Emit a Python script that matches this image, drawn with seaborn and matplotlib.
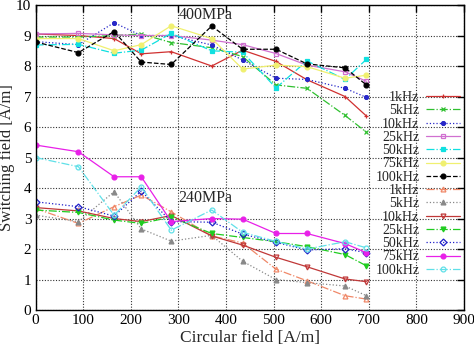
import numpy as np
import pandas as pd
import matplotlib
matplotlib.use("Agg")
import matplotlib.pyplot as plt
import seaborn as sns

x = [0, 90, 165, 222, 285, 370, 435, 505, 570, 650, 695]

labels = ["1kHz", "5kHz", "10kHz", "25kHz", "50kHz", "75kHz", "100kHz"]

# 400 MPa
hi_1k   = [9.05, 9.0, 8.9, 8.4, 8.47, 8.0, 8.52, 8.15, 7.55, 7.0, 6.36]
hi_5k   = [8.95, 8.95, 9.0, 9.05, 8.77, 8.6, 8.31, 7.38, 7.27, 6.38, 5.83]
hi_10k  = [8.8, 8.7, 9.42, 9.0, 9.0, 8.69, 8.2, 7.6, 7.56, 7.27, 6.97]
hi_25k  = [9.05, 9.07, 9.02, 9.0, 9.0, 8.85, 8.7, 8.41, 8.03, 7.81, 7.5]
hi_50k  = [8.69, 8.71, 8.42, 8.52, 9.07, 8.5, 8.45, 7.28, 8.17, 7.56, 8.22]
hi_75k  = [8.9, 8.9, 8.5, 8.7, 9.32, 8.9, 7.9, 8.03, 7.98, 7.6, 7.7]
hi_100k = [8.79, 8.44, 9.13, 8.13, 8.05, 9.31, 8.55, 8.55, 8.07, 7.94, 7.38]

# 240 MPa
lo_1k   = [3.33, 2.84, 3.39, 3.77, 3.22, 2.43, 2.2, 1.34, 0.96, 0.47, 0.36]
lo_5k   = [3.11, 2.9, 3.88, 2.66, 2.26, 2.45, 1.6, 1.0, 0.9, 0.79, 0.47]
lo_10k  = [3.36, 3.25, 3.0, 2.9, 3.1, 2.43, 2.13, 1.73, 1.42, 1.02, 0.93]
lo_25k  = [3.28, 3.2, 2.95, 2.84, 3.05, 2.51, 2.38, 2.24, 2.08, 1.82, 1.45]
lo_50k  = [3.55, 3.39, 3.08, 3.9, 2.9, 2.88, 2.49, 2.22, 1.97, 2.01, 1.88]
lo_75k  = [5.41, 5.19, 4.37, 4.37, 2.9, 3.0, 2.98, 2.51, 2.51, 2.18, 1.88]
lo_100k = [5.0, 4.7, 3.11, 4.04, 2.62, 3.28, 2.55, 2.25, 2.0, 2.24, 2.04]

hi_series = [hi_1k, hi_5k, hi_10k, hi_25k, hi_50k, hi_75k, hi_100k]
lo_series = [lo_1k, lo_5k, lo_10k, lo_25k, lo_50k, lo_75k, lo_100k]

asterisk = (8, 2, 0)
hi_styles = [
    dict(color="#d03030", ls="-", marker="+", mfc="#d03030"),
    dict(color="#30c030", ls="-.", marker="x", mfc="#30c030"),
    dict(color="#2828c8", ls=":", marker=asterisk, mfc="#2828c8"),
    dict(color="#d070d0", ls="-", marker="s", mfc="none"),
    dict(color="#10e0e0", ls="-.", marker="s", mfc="#10e0e0"),
    dict(color="#f0f070", ls="-", marker="o", mfc="#f0f070"),
    dict(color="#000000", ls="--", marker="o", mfc="#000000"),
]
lo_styles = [
    dict(color="#f08868", ls="-.", marker="^", mfc="none"),
    dict(color="#888888", ls=":", marker="^", mfc="#888888"),
    dict(color="#c03838", ls="-", marker="v", mfc="none"),
    dict(color="#20cc20", ls="-.", marker="v", mfc="#20cc20"),
    dict(color="#2020c8", ls=":", marker="D", mfc="none"),
    dict(color="#e820e8", ls="-", marker="o", mfc="#e820e8"),
    dict(color="#60e0e8", ls="-.", marker="o", mfc="none"),
]

sns.set_theme(style="white")
plt.rcParams["font.family"] = ["Liberation Serif", "DejaVu Serif"]
plt.rcParams["mathtext.fontset"] = "stix"

fig, ax = plt.subplots(figsize=(4.74, 3.48), dpi=100)
fig.subplots_adjust(left=0.075, right=0.979, top=0.9856, bottom=0.109)

handles = []
leg_labels = []
for group, styles in ((hi_series, hi_styles), (lo_series, lo_styles)):
    for lab, ys, st in zip(labels, group, styles):
        df = pd.DataFrame({"x": x, "y": ys})
        sns.lineplot(data=df, x="x", y="y", ax=ax, color=st["color"],
                     linestyle=st["ls"], marker=st["marker"],
                     markerfacecolor=st["mfc"], markeredgecolor=st["color"],
                     markersize=3.5, markeredgewidth=0.9, linewidth=0.9,
                     legend=False)
        line = ax.lines[-1]
        handles.append(line)
        leg_labels.append(lab)

ax.set_xlim(0, 900)
ax.set_ylim(0, 10)
ax.set_xticks(np.arange(0, 901, 100))
ax.set_yticks(np.arange(0, 11, 1))
ax.grid(True, color="#333333", linestyle=(0, (1, 1.5)), linewidth=0.8)
for s in ax.spines.values():
    s.set_color("black")
    s.set_linewidth(1.0)
ax.tick_params(direction="in", length=5, width=1, top=True, right=True,
               labelsize=11, colors="black", pad=3)
ax.set_xlabel("Circular field [A/m]", fontsize=12.5, labelpad=2)
ax.set_ylabel("Switching field [A/m]", fontsize=12, labelpad=1)

ax.text(300, 9.67, "400MPa", fontsize=11.5, va="center", ha="left")
ax.text(300, 3.67, "240MPa", fontsize=11.5, va="center", ha="left")

ax.legend(handles, leg_labels, loc="upper right", bbox_to_anchor=(0.99, 0.718),
          frameon=False, markerfirst=False, fontsize=10, labelspacing=0.02,
          handlelength=2.4, handletextpad=0.5, borderpad=0.0,
          borderaxespad=0.0)

fig.savefig("out.png", dpi=100)
